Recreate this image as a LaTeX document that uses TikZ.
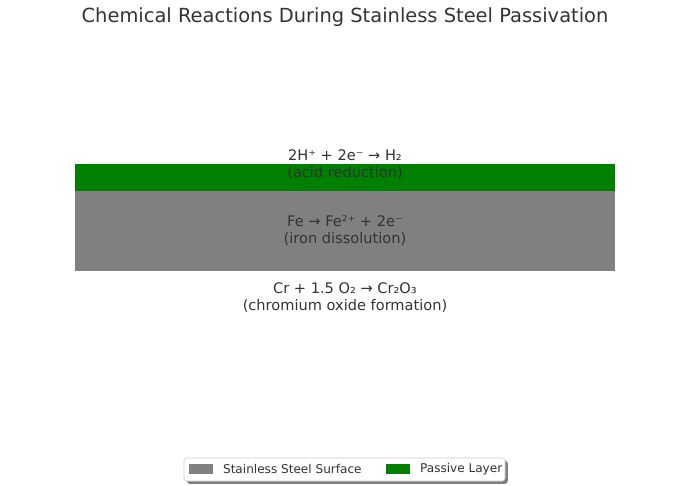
\documentclass[tikz,border=0pt]{standalone}
\usepackage{fontspec}
\setmainfont{DejaVu Sans}
\usetikzlibrary{positioning, shadows}
\definecolor{txtgray}{HTML}{333333}
\definecolor{steelgray}{HTML}{808080}
\definecolor{passgreen}{HTML}{008000}
\tikzstyle{reaction} = [align=center, text=txtgray, font=\fontsize{10.5}{12.2}\selectfont, inner sep=0pt]
\tikzstyle{legpatch} = [rectangle, minimum width=17pt, minimum height=6.5pt, inner sep=0pt]
\tikzstyle{legtext} = [text=txtgray, font=\fontsize{8.7}{10}\selectfont, anchor=west, inner sep=0pt]

\begin{document}
\begin{tikzpicture}[x=0.72pt, y=-0.72pt]
        \useasboundingbox (0,0) rectangle (691,486);
        \node (title) [text=txtgray, font=\fontsize{14}{17}\selectfont] at (345,17) {Chemical Reactions During Stainless Steel Passivation};

        \fill [steelgray] (75,191) rectangle (615,271);
        \fill [passgreen] (75,164) rectangle (615,191);

        \node (reduction) [reaction] at (345,164.5) {2H⁺ + 2e⁻ → H₂\\(acid reduction)};
        \node (dissolution) [reaction] at (345,231) {Fe → Fe²⁺ + 2e⁻\\(iron dissolution)};
        \node (oxide) [reaction] at (345,298) {Cr + 1.5 O₂ → Cr₂O₃\\(chromium oxide formation)};

        \draw [draw=black!20, fill=white, rounded corners=2pt, drop shadow={shadow xshift=2pt, shadow yshift=-2pt, fill=black!50, opacity=1}] (184,458) rectangle (505,481);
        \node (steelpatch) [legpatch, fill=steelgray] at (201,469) {};
        \node (steellabel) [legtext, right=7pt of steelpatch] {Stainless Steel Surface};
        \node (greenpatch) [legpatch, fill=passgreen] at (398,469) {};
        \node (greenlabel) [legtext, right=7pt of greenpatch] {Passive Layer};
    \end{tikzpicture}
\end{document}
